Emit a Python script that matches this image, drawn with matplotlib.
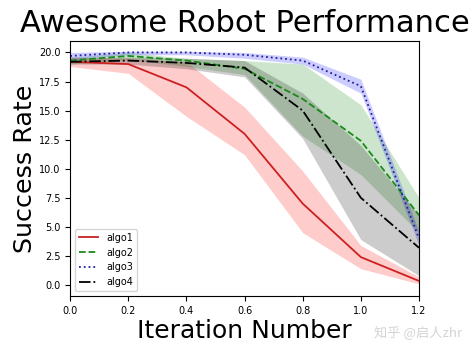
import matplotlib
matplotlib.use("Agg")
import matplotlib.pyplot as plt
import numpy as np

# data
iters = [0.0, 0.2, 0.4, 0.6, 0.8, 1.0, 1.2]
labels = ["algo1", "algo2", "algo3", "algo4"]

algo1_mean = [19.2, 19.0, 17.0, 13.0, 7.0, 2.4, 0.35]
algo1_low = [18.8, 18.2, 14.5, 11.2, 4.5, 1.4, 0.1]
algo1_high = [19.6, 19.5, 19.2, 15.3, 9.8, 3.4, 0.7]

algo2_mean = [19.3, 19.7, 19.3, 18.6, 16.0, 12.4, 6.0]
algo2_low = [19.0, 19.4, 18.8, 18.1, 12.8, 9.5, 4.5]
algo2_high = [19.6, 20.0, 19.5, 19.3, 19.0, 15.5, 7.5]

algo3_mean = [19.7, 20.0, 20.0, 19.8, 19.3, 17.1, 4.0]
algo3_low = [19.4, 19.8, 19.8, 19.5, 19.0, 16.5, 3.4]
algo3_high = [20.0, 20.1, 20.1, 20.0, 19.6, 17.7, 4.6]

algo4_mean = [19.2, 19.3, 19.1, 18.7, 15.0, 7.5, 3.2]
algo4_low = [19.0, 19.0, 18.6, 17.9, 12.6, 3.9, 0.8]
algo4_high = [19.5, 19.6, 19.5, 19.3, 16.5, 12.0, 6.0]

means = [algo1_mean, algo2_mean, algo3_mean, algo4_mean]
lows = [algo1_low, algo2_low, algo3_low, algo4_low]
highs = [algo1_high, algo2_high, algo3_high, algo4_high]

line_colors = ["#cc2020", "#1a8a1a", "#2020a0", "black"]
band_colors = ["r", "g", "b", "k"]
styles = ["-", "--", ":", "-."]

fig, ax = plt.subplots(figsize=(4.74, 3.55), dpi=100)
fig.subplots_adjust(left=0.148, right=0.884, top=0.885, bottom=0.166)

for m, lo, hi, lc, bc, ls, lab in zip(means, lows, highs, line_colors, band_colors, styles, labels):
    ax.fill_between(iters, lo, hi, color=bc, alpha=0.2, linewidth=0)
    ax.plot(iters, m, color=lc, linestyle=ls, linewidth=1.3, label=lab)

ax.set_xlim(0, 1.2)
ax.set_ylim(-0.95, 21.0)
ax.set_yticks(np.arange(0, 20.1, 2.5))
ax.tick_params(labelsize=7)

ax.set_title("Awesome Robot Performance", fontsize=22.1)
ax.set_xlabel("Iteration Number", fontsize=18, labelpad=2)
ax.set_ylabel("Success Rate", fontsize=18.3, labelpad=1)
ax.legend(loc="lower left", fontsize=7)

# watermark in the bottom right corner
fig.text(0.975, 0.065, "知乎 @启人zhr", ha="right", va="center", fontsize=9.5,
         color="#d4d4d4", family=["Noto Sans CJK SC", "DejaVu Sans"])

fig.savefig("out.png", dpi=100)
